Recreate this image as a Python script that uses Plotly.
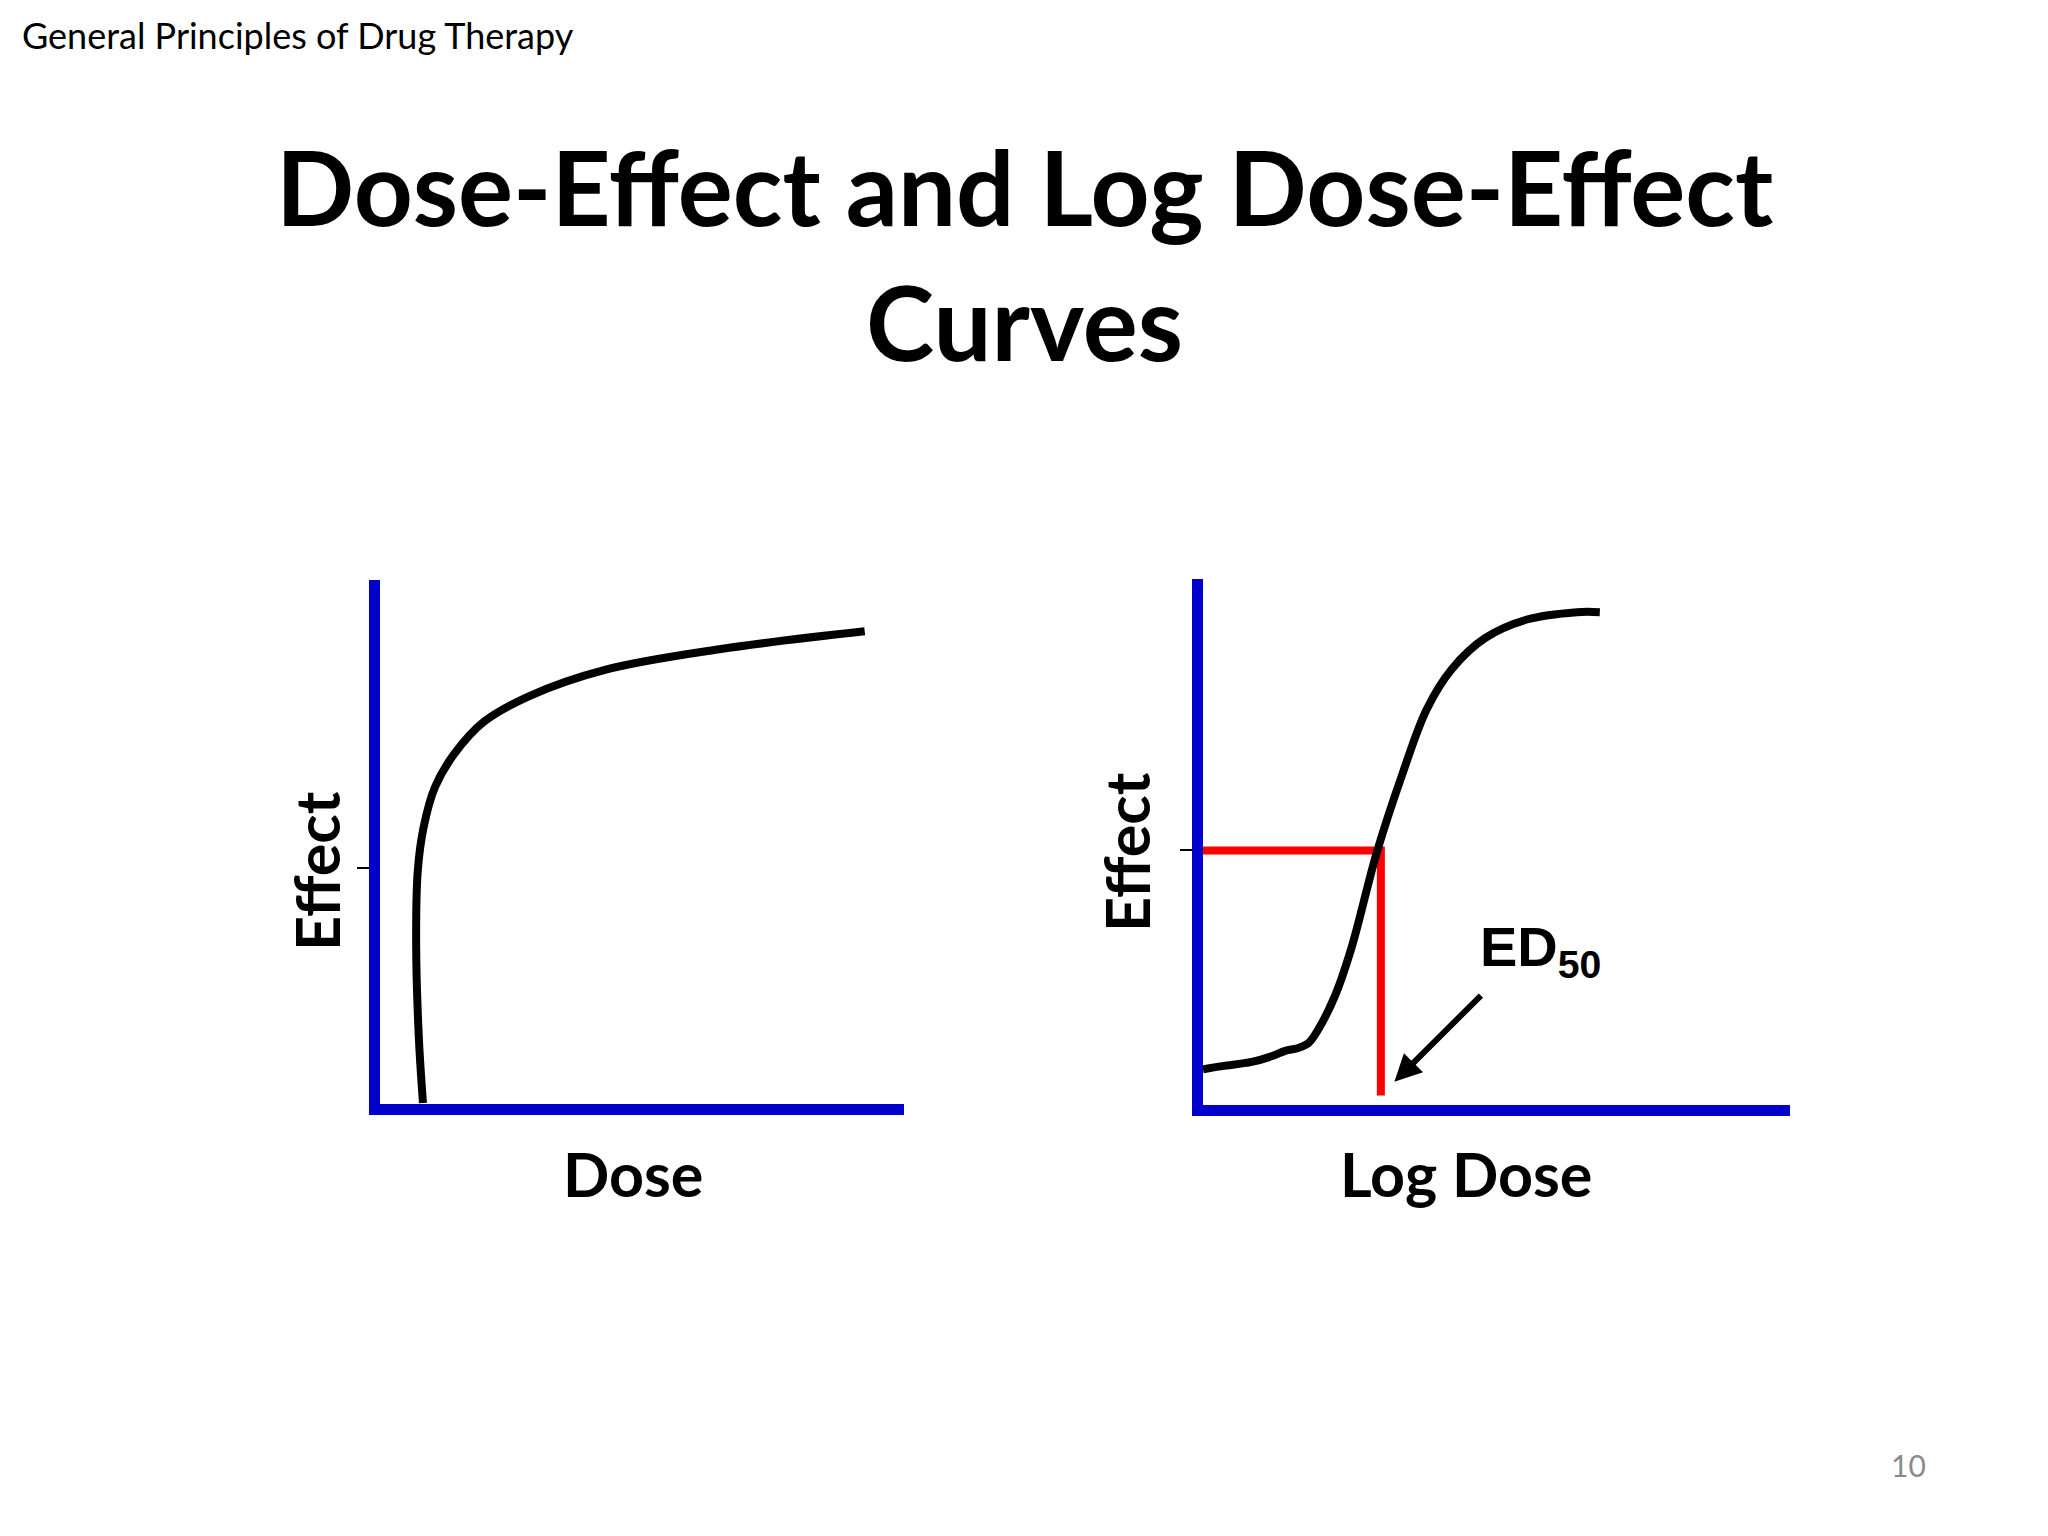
import plotly.graph_objects as go

# ---- data ----
dose_x = [8.2, 7.4, 6.9, 7.2, 8.3, 10.5, 14.1, 19.9, 28.6, 43.1, 64.8, 92.5]
dose_y = [0.2, 12.9, 30.3, 44.4, 52.7, 60.5, 66.7, 73.0, 77.9, 82.9, 86.8, 90.2]

logdose_x = [0.0, 3.3, 8.3, 11.8, 14.0, 16.1, 17.9, 19.7, 22.5, 25.3, 29.6, 33.9, 38.1, 42.4, 48.1, 55.2, 63.7, 67.6]
logdose_y = [6.8, 7.4, 8.2, 9.3, 10.3, 10.8, 11.7, 14.5, 20.8, 29.9, 48.0, 62.7, 75.2, 82.9, 88.8, 92.3, 93.7, 93.7]

ed50_x = [0.0, 30.3, 30.3]
ed50_y = [48.4, 48.4, 1.8]

left_tick = [45]
right_tick = [48.4]

BLUE = "#0000CC"
W, H = 2048, 1536

fig = go.Figure()
fig.add_trace(go.Scatter(x=dose_x, y=dose_y, mode="lines", line=dict(color="black", width=8, shape="spline", smoothing=1.0),
                         xaxis="x", yaxis="y", showlegend=False, hoverinfo="skip"))
fig.add_trace(go.Scatter(x=ed50_x, y=ed50_y, mode="lines", line=dict(color="#FF0000", width=8),
                         xaxis="x2", yaxis="y2", showlegend=False, hoverinfo="skip"))
fig.add_trace(go.Scatter(x=logdose_x, y=logdose_y, mode="lines", line=dict(color="black", width=8, shape="spline", smoothing=1.0),
                         xaxis="x2", yaxis="y2", showlegend=False, hoverinfo="skip"))

def px_x(v):
    return v / W

def px_y(v):
    return 1 - v / H

ax_common = dict(showgrid=False, zeroline=False, showline=True, linecolor=BLUE, linewidth=11, fixedrange=True)

fig.update_layout(
    width=W, height=H,
    margin=dict(l=0, r=0, t=0, b=0),
    paper_bgcolor="white", plot_bgcolor="white",
    xaxis=dict(domain=[px_x(380), px_x(904)], range=[0, 100], showticklabels=False, ticks="", **ax_common),
    yaxis=dict(domain=[px_y(1104), px_y(580)], range=[0, 100], tickvals=left_tick, ticks="outside", ticklen=12,
               tickwidth=2, tickcolor="black", showticklabels=False, **ax_common),
    xaxis2=dict(domain=[px_x(1203), px_x(1790)], range=[0, 100], showticklabels=False, ticks="", anchor="y2", **ax_common),
    yaxis2=dict(domain=[px_y(1105), px_y(579)], range=[0, 100], tickvals=right_tick, ticks="outside", ticklen=12,
                tickwidth=2, tickcolor="black", showticklabels=False, anchor="x2", **ax_common),
)

ann = []
ann.append(dict(text="General Principles of Drug Therapy", x=px_x(20), y=px_y(35), xref="paper", yref="paper",
                xanchor="left", yanchor="middle", showarrow=False, font=dict(family="Lato", size=36, color="black")))
ann.append(dict(text="<b>Dose-Effect and Log Dose-Effect</b>", x=0.5, y=px_y(186), xref="paper", yref="paper",
                xanchor="center", yanchor="middle", showarrow=False, font=dict(family="Lato", size=103, color="black")))
ann.append(dict(text="<b>Curves</b>", x=0.5, y=px_y(321), xref="paper", yref="paper",
                xanchor="center", yanchor="middle", showarrow=False, font=dict(family="Lato", size=103, color="black")))
ann.append(dict(text="<b>Effect</b>", x=px_x(316), y=px_y(871), xref="paper", yref="paper", textangle=-90,
                xanchor="center", yanchor="middle", showarrow=False, font=dict(family="Lato", size=61, color="black")))
ann.append(dict(text="<b>Effect</b>", x=px_x(1126), y=px_y(852), xref="paper", yref="paper", textangle=-90,
                xanchor="center", yanchor="middle", showarrow=False, font=dict(family="Lato", size=61, color="black")))
ann.append(dict(text="<b>Dose</b>", x=px_x(633), y=px_y(1173), xref="paper", yref="paper",
                xanchor="center", yanchor="middle", showarrow=False, font=dict(family="Lato", size=61, color="black")))
ann.append(dict(text="<b>Log Dose</b>", x=px_x(1466), y=px_y(1173), xref="paper", yref="paper",
                xanchor="center", yanchor="middle", showarrow=False, font=dict(family="Lato", size=61, color="black")))
ann.append(dict(text="<b>ED<sub>50</sub></b>", x=px_x(1478), y=px_y(950), xref="paper", yref="paper",
                xanchor="left", yanchor="middle", showarrow=False, font=dict(family="Liberation Sans", size=56, color="black")))
ann.append(dict(text="", x=32.6, y=4.4, xref="x2", yref="y2", ax=47.6, ay=21.1, axref="x2", ayref="y2",
                showarrow=True, arrowhead=2, arrowsize=0.9, arrowwidth=6, arrowcolor="black"))
ann.append(dict(text="10", x=px_x(1908), y=px_y(1465), xref="paper", yref="paper",
                xanchor="center", yanchor="middle", showarrow=False, font=dict(family="Lato", size=30, color="#8A8A8A")))
fig.update_layout(annotations=ann)

fig.write_html("out.html")
